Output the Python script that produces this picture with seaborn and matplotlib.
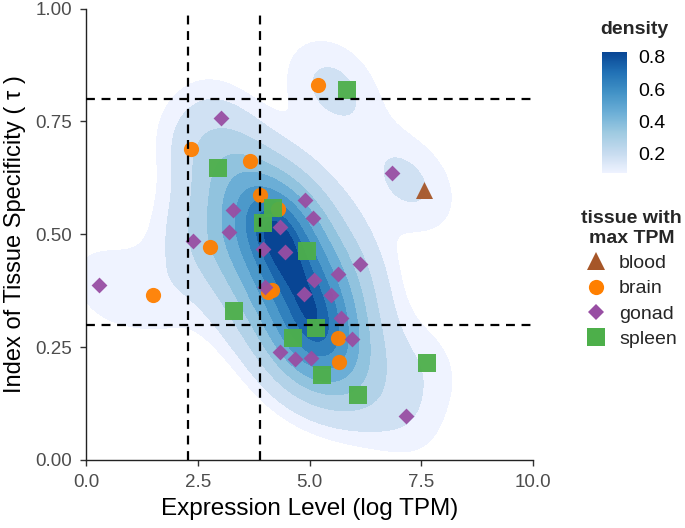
import numpy as np
import pandas as pd
import matplotlib
matplotlib.use("Agg")
import matplotlib.pyplot as plt
import seaborn as sns
from matplotlib.colors import LinearSegmentedColormap, ListedColormap, Normalize
from matplotlib.cm import ScalarMappable
from matplotlib.lines import Line2D

# values: expression level (log TPM) and tau
blood_x = [7.56]
blood_y = [0.597]
brain_x = [5.19, 2.36, 3.67, 3.90, 4.29, 2.77, 1.51, 4.07, 4.17, 5.63, 5.66]
brain_y = [0.830, 0.688, 0.663, 0.588, 0.557, 0.472, 0.366, 0.373, 0.376, 0.271, 0.217]
gonad_x = [3.01, 6.84, 3.29, 4.91, 5.08, 4.33, 3.20, 2.39, 3.95, 4.45, 6.13, 5.63,
           0.30, 5.10, 4.00, 4.87, 5.49, 5.70, 5.96, 4.33, 4.67, 5.04, 7.16]
gonad_y = [0.758, 0.635, 0.554, 0.576, 0.537, 0.515, 0.504, 0.486, 0.467, 0.460, 0.434, 0.413,
           0.388, 0.398, 0.383, 0.367, 0.365, 0.314, 0.267, 0.240, 0.223, 0.226, 0.097]
spleen_x = [5.83, 2.95, 4.18, 3.95, 4.95, 3.30, 5.14, 4.63, 7.62, 5.27, 6.08]
spleen_y = [0.819, 0.647, 0.558, 0.525, 0.462, 0.330, 0.293, 0.271, 0.215, 0.189, 0.145]

tissues = ["blood", "brain", "gonad", "spleen"]
cutoff_x = [2.28, 3.89]
cutoff_y = [0.80, 0.30]
density_ticks = [0.2, 0.4, 0.6, 0.8]

# Configuration
colors = {"blood": "#A65628", "brain": "#FF7F00", "gonad": "#984EA3", "spleen": "#4DAF4A"}
markers = {"blood": "^", "brain": "o", "gonad": "D", "spleen": "s"}
sizes = {"blood": 150, "brain": 120, "gonad": 65, "spleen": 150}
blues = LinearSegmentedColormap.from_list(
    "blues7", ["#EFF3FF", "#C6DBEF", "#9ECAE1", "#6BAED6", "#4292C6", "#2171B5", "#084594"]
)
iso_levels = [0.08, 0.21, 0.34, 0.46, 0.57, 0.68, 0.78, 0.87, 0.94, 1.0]
n_bands = len(iso_levels) - 1
band_cmap = ListedColormap([blues(v) for v in np.linspace(0.0, 1.0, n_bands)])

sns.set_theme(style="white")
plt.rcParams["font.family"] = ["Liberation Sans", "DejaVu Sans"]

df = pd.concat(
    [
        pd.DataFrame({"expr": blood_x, "tau": blood_y, "tissue": "blood"}),
        pd.DataFrame({"expr": brain_x, "tau": brain_y, "tissue": "brain"}),
        pd.DataFrame({"expr": gonad_x, "tau": gonad_y, "tissue": "gonad"}),
        pd.DataFrame({"expr": spleen_x, "tau": spleen_y, "tissue": "spleen"}),
    ],
    ignore_index=True,
)

fig = plt.figure(figsize=(6.85, 5.28), dpi=100)
ax = fig.add_axes([86 / 685, 1 - 460 / 528, 447 / 685, 451.5 / 528])

# density of all genes
sns.kdeplot(data=df, x="expr", y="tau", fill=True, cmap=blues,
            levels=iso_levels, bw_adjust=0.9, ax=ax, zorder=0)
# one flat colour per band
cset = ax.collections[0]
cset.set_cmap(band_cmap)
cset.set_norm(Normalize(-0.5, n_bands - 0.5))
cset.set_array(np.arange(n_bands))

for t in tissues:
    sub = df[df["tissue"] == t]
    sns.scatterplot(data=sub, x="expr", y="tau", color=colors[t], marker=markers[t],
                    s=sizes[t], linewidth=0, alpha=0.95, ax=ax, legend=False, zorder=3)

for v in cutoff_x:
    ax.axvline(v, color="black", lw=1.6, ls=(0, (4, 3)), zorder=4)
for h in cutoff_y:
    ax.axhline(h, color="black", lw=1.6, ls=(0, (4, 3)), zorder=4)

ax.set_xlim(0, 10)
ax.set_ylim(0, 1)
ax.set_xticks([0, 2.5, 5, 7.5, 10])
ax.set_xticklabels(["0.0", "2.5", "5.0", "7.5", "10.0"])
ax.set_yticks([0, 0.25, 0.5, 0.75, 1.0])
ax.set_yticklabels(["0.00", "0.25", "0.50", "0.75", "1.00"])
ax.tick_params(axis="both", direction="out", length=4, width=1, color="#333333",
               labelsize=13.5, labelcolor="#4D4D4D", bottom=True, left=True)
ax.tick_params(axis="x", pad=6)
ax.tick_params(axis="y", pad=6)
ax.set_xlabel("Expression Level (log TPM)", fontsize=17.5, color="black", labelpad=5)
ax.set_ylabel("Index of Tissue Specificity ( τ )", fontsize=17, color="black", labelpad=7)
sns.despine(ax=ax)
for side in ["left", "bottom"]:
    ax.spines[side].set_color("#222222")
    ax.spines[side].set_linewidth(1.0)

# colourbar legend
cax = fig.add_axes([602 / 685, 1 - 173 / 528, 25 / 685, 121 / 528])
cb = fig.colorbar(ScalarMappable(norm=Normalize(0.08, 0.83), cmap=blues), cax=cax,
                  ticks=density_ticks)
cb.outline.set_visible(False)
cax.tick_params(axis="y", direction="in", length=5, width=1, color="white",
                left=True, right=True, labelsize=14, labelcolor="black", pad=8)
cb.set_ticklabels(["0.2", "0.4", "0.6", "0.8"])
fig.text(600 / 685, 1 - 29 / 528, "density", fontsize=14, fontweight="bold",
         ha="left", va="center")

# tissue legend
handles = [
    Line2D([], [], ls="none", marker=markers[t], color=colors[t],
           markersize=np.sqrt(sizes[t]), markeredgewidth=0)
    for t in tissues
]
leg = fig.legend(handles, tissues, loc="upper left", bbox_to_anchor=(581 / 685, 1 - 210 / 528),
                 frameon=False, fontsize=14, title="tissue with\nmax TPM",
                 title_fontproperties={"weight": "bold", "size": 14}, alignment="center",
                 handletextpad=0.7, labelspacing=0.4, borderpad=0, borderaxespad=0,
                 handlelength=1.0)
leg.get_title().set_multialignment("center")

plt.savefig("out.png", dpi=100)
